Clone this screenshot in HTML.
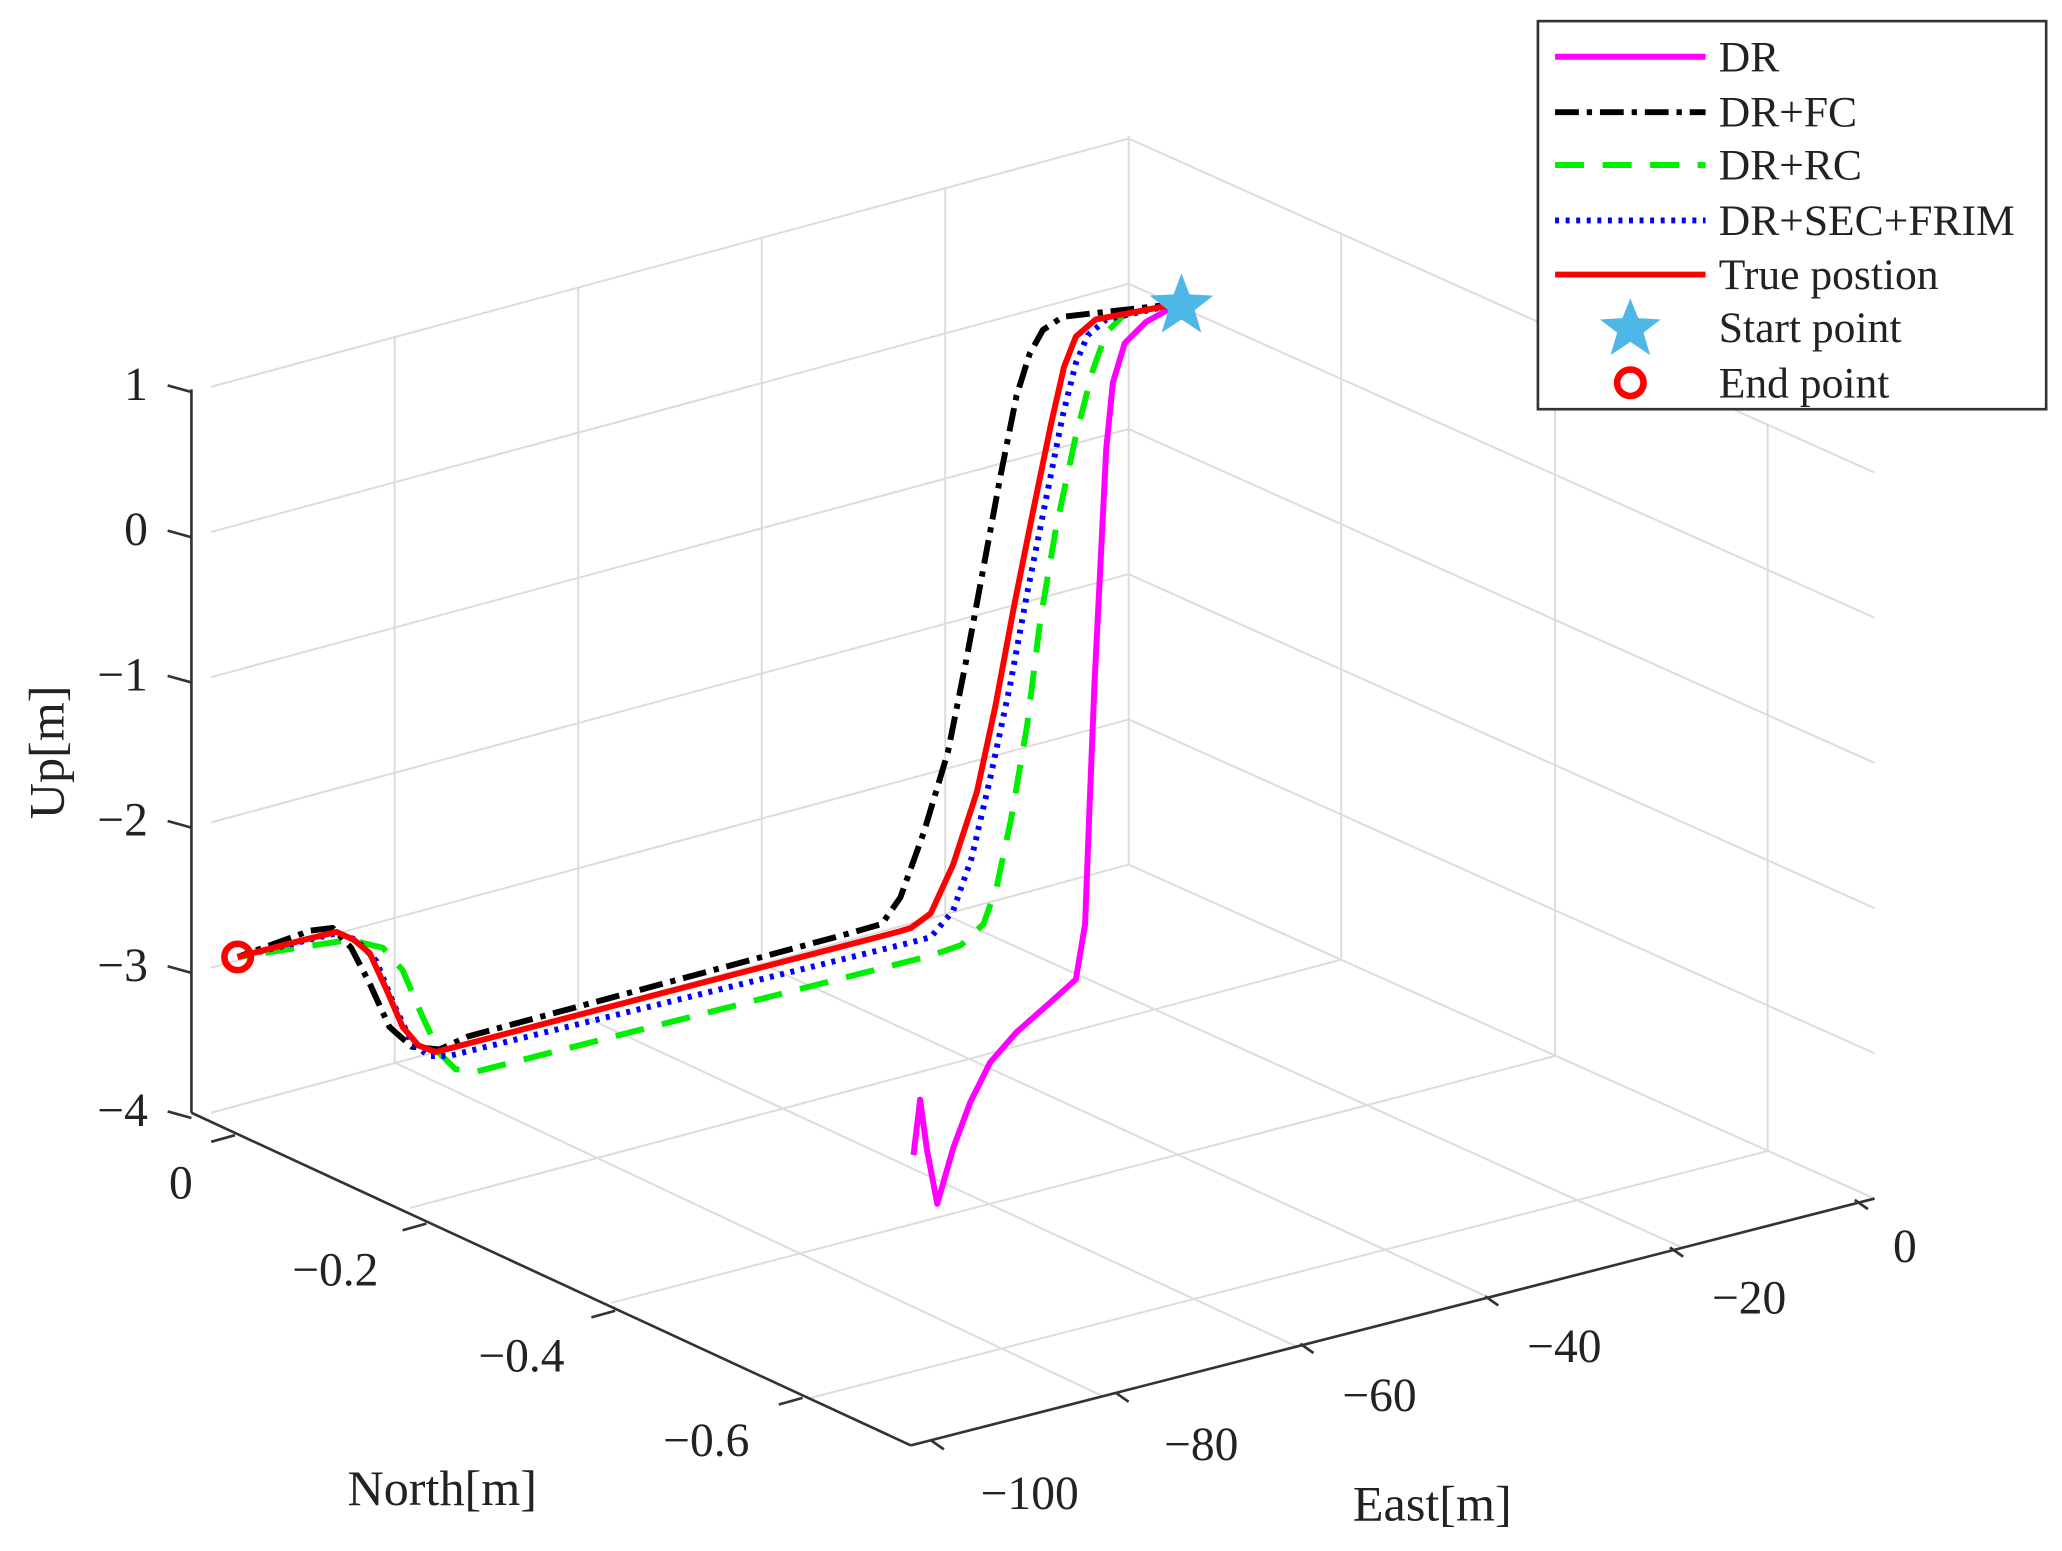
<!DOCTYPE html>
<html><head><meta charset="utf-8"><style>html,body{margin:0;padding:0;background:#fff}svg{display:block}</style></head>
<body>
<svg width="2062" height="1551" viewBox="0 0 1562 1175" preserveAspectRatio="none" xmlns="http://www.w3.org/2000/svg" font-family="Liberation Serif, serif">
<rect width="1562" height="1175" fill="#fff"/>
<g stroke="#dcdcdc" stroke-width="1.5" fill="none">
<line x1="299" y1="805" x2="299" y2="255"/><line x1="438" y1="768" x2="438" y2="218"/>
<line x1="577" y1="730" x2="577" y2="180"/><line x1="716" y1="693" x2="716" y2="143"/>
<line x1="855" y1="655" x2="855" y2="103"/>
<line x1="160" y1="843" x2="855" y2="655"/><line x1="160" y1="733" x2="855" y2="545"/>
<line x1="160" y1="623" x2="855" y2="435"/><line x1="160" y1="513" x2="855" y2="325"/>
<line x1="160" y1="403" x2="855" y2="215"/><line x1="160" y1="293" x2="855" y2="105"/>
<line x1="1016" y1="727" x2="1016" y2="177"/><line x1="1178" y1="800" x2="1178" y2="250"/>
<line x1="1339" y1="872" x2="1339" y2="322"/>
<line x1="855" y1="655" x2="1420" y2="908"/><line x1="855" y1="545" x2="1420" y2="798"/>
<line x1="855" y1="435" x2="1420" y2="688"/><line x1="855" y1="325" x2="1420" y2="578"/>
<line x1="855" y1="215" x2="1420" y2="468"/><line x1="855" y1="105" x2="1420" y2="358"/>
<line x1="299" y1="805" x2="836" y2="1058"/><line x1="438" y1="768" x2="982" y2="1020"/>
<line x1="577" y1="730" x2="1128" y2="983"/><line x1="716" y1="693" x2="1274" y2="945"/>
<line x1="311" y1="915" x2="1016" y2="727"/><line x1="463" y1="987" x2="1178" y2="800"/>
<line x1="614" y1="1059" x2="1339" y2="872"/>
</g>
<g stroke="#333" stroke-width="2" fill="none">
<line x1="145" y1="295" x2="145" y2="843"/>
<line x1="145" y1="843" x2="690" y2="1095"/>
<line x1="690" y1="1095" x2="1420" y2="908"/>
<line x1="127" y1="292" x2="145" y2="297"/><line x1="127" y1="402" x2="145" y2="407"/>
<line x1="127" y1="512" x2="145" y2="517"/><line x1="127" y1="622" x2="145" y2="627"/>
<line x1="127" y1="732" x2="145" y2="737"/><line x1="127" y1="842" x2="145" y2="847"/>
<line x1="160" y1="865" x2="178" y2="860"/><line x1="305" y1="932" x2="323" y2="927"/>
<line x1="448" y1="998" x2="466" y2="993"/><line x1="590" y1="1064" x2="608" y2="1059"/>
<line x1="705" y1="1091" x2="715" y2="1098"/><line x1="845" y1="1055" x2="855" y2="1062"/>
<line x1="985" y1="1018" x2="995" y2="1025"/><line x1="1125" y1="982" x2="1135" y2="989"/>
<line x1="1265" y1="945" x2="1275" y2="952"/><line x1="1405" y1="909" x2="1415" y2="916"/>
</g>
<g font-size="36" fill="#222">
<g text-anchor="end">
<text x="112" y="303">1</text><text x="112" y="413">0</text><text x="112" y="523">−1</text>
<text x="112" y="633">−2</text><text x="112" y="743">−3</text><text x="112" y="853">−4</text>
</g>
<g text-anchor="middle">
<text x="137" y="908">0</text><text x="254" y="974">−0.2</text><text x="395" y="1039">−0.4</text><text x="535" y="1103">−0.6</text>
<text x="780" y="1143">−100</text><text x="910" y="1106">−80</text><text x="1045" y="1069">−60</text>
<text x="1185" y="1032">−40</text><text x="1325" y="995">−20</text><text x="1443" y="956">0</text>
<text x="335" y="1140" font-size="38">North[m]</text><text x="1085" y="1152" font-size="38">East[m]</text>
</g>
<text transform="translate(48,570) rotate(-90)" text-anchor="middle" font-size="38">Up[m]</text>
</g>
<g fill="none" stroke-width="4.5" stroke-linejoin="round" stroke-linecap="butt">
<polyline stroke="#ff00ff" points="893,230 868,244 852,260 843,290 838,340 834,420 829,520 825,620 822,700 815,742 795,760 770,782 750,805 735,835 722,870 710,912 702,870 697,833 692,875"/>
<polyline stroke="#00ee00" stroke-dasharray="22,14" points="893,230 852,238 838,252 828,280 815,330 800,400 788,470 778,550 766,620 755,672 745,700 728,716 705,724 360,812 345,810 333,798 320,770 305,735 290,718 265,712 180,725"/>
<polyline stroke="#000" stroke-dasharray="18,6,4,6" points="893,230 805,240 790,250 780,268 770,300 758,360 745,430 732,500 718,570 700,630 682,680 668,700 640,708 355,785 333,795 312,793 295,778 280,745 266,718 252,703 235,705 180,725"/>
<polyline stroke="#0000ff" stroke-dasharray="3,5" points="893,230 838,242 824,254 815,275 805,315 792,380 778,450 765,520 750,590 736,650 722,690 705,710 690,714 340,800 325,800 312,790 298,760 285,728 270,712 255,707 180,725"/>
<polyline stroke="#ff0000" points="893,230 830,242 815,255 806,278 796,322 782,390 768,460 754,535 740,600 722,655 705,692 690,703 680,706 330,797 317,792 305,778 292,748 280,722 268,712 255,706 230,712 180,725"/>
</g>
<polygon fill="#4db8e8" points="895,207 901,223 919,224 905,235 910,252 895,242 880,252 885,235 871,224 889,223"/>
<circle cx="180" cy="725" r="10" fill="none" stroke="#ff0000" stroke-width="5"/>
<rect x="1165" y="16" width="385" height="294" fill="#fff" stroke="#333" stroke-width="2"/>
<g stroke-width="4.5">
<line x1="1178" y1="43" x2="1292" y2="43" stroke="#ff00ff"/>
<line x1="1178" y1="85" x2="1292" y2="85" stroke="#000" stroke-dasharray="18,6,4,6"/>
<line x1="1178" y1="125" x2="1292" y2="125" stroke="#00ee00" stroke-dasharray="22,14"/>
<line x1="1178" y1="167" x2="1292" y2="167" stroke="#0000ff" stroke-dasharray="3,5"/>
<line x1="1178" y1="208" x2="1292" y2="208" stroke="#ff0000"/>
</g>
<polygon fill="#4db8e8" points="1235,226 1241,241 1258,242 1245,252 1250,269 1235,259 1220,269 1225,252 1212,242 1229,241"/>
<circle cx="1235" cy="290" r="10" fill="none" stroke="#ff0000" stroke-width="5"/>
<g font-size="33" fill="#222">
<text x="1302" y="54">DR</text><text x="1302" y="96">DR+FC</text><text x="1302" y="136">DR+RC</text>
<text x="1302" y="178">DR+SEC+FRIM</text><text x="1302" y="219">True postion</text>
<text x="1302" y="259">Start point</text><text x="1302" y="301">End point</text>
</g>
</svg>
</body></html>
